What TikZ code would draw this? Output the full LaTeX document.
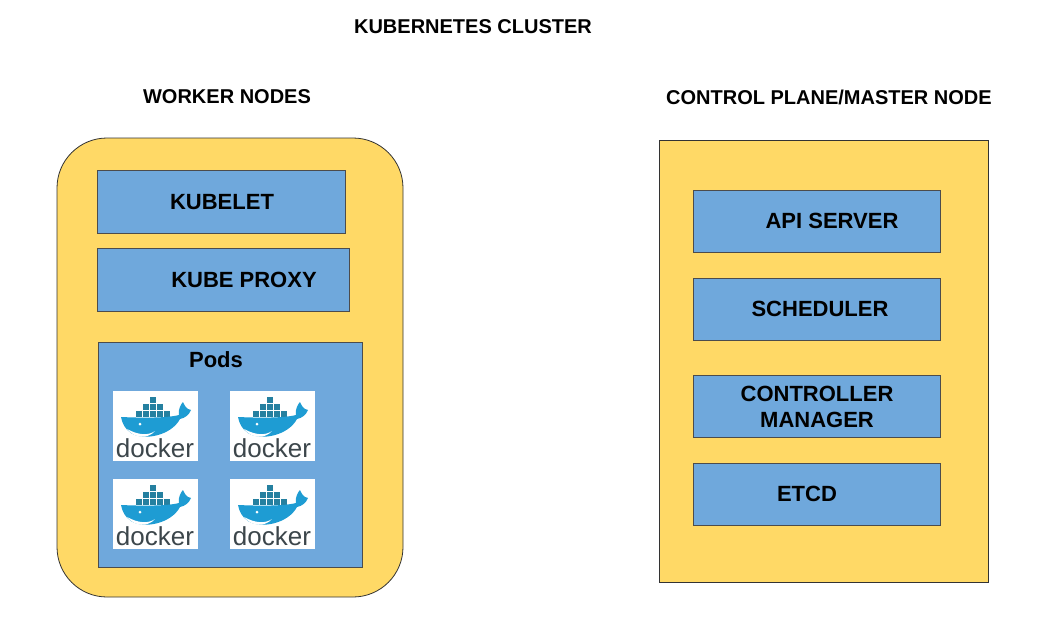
\documentclass[tikz,border=0pt]{standalone}
\usepackage{fontspec}
\setmainfont{Liberation Sans}
\begin{document}
\begin{tikzpicture}[x=1pt,y=-1pt,
 yel/.style={fill={rgb,255:red,255;green,217;blue,102},draw=black!80,line width=0.8pt},
 blu/.style={fill={rgb,255:red,111;green,168;blue,220},draw=black!70,line width=0.8pt},
 ttl/.style={font=\bfseries\fontsize{20}{24}\selectfont},
 lbl/.style={font=\bfseries\fontsize{22}{26}\selectfont,align=center},
 dock/.pic={
  \fill[white] (0,0) rectangle (85,70);
  \foreach \c/\r in {0/2,1/2,2/2,3/2,4/2,1/1,2/1,3/1,2/0}
   \fill[fill={rgb,255:red,37;green,128;blue,160},draw=white,line width=0.3pt] (22+\c*7,5+\r*7) rectangle ++(7,7);
  \fill[fill={rgb,255:red,30;green,156;blue,211}] (8,26) .. controls (30,27) and (55,27) .. (66,24)
     .. controls (65,18) and (68,13) .. (70,11) .. controls (72,15) and (73,18) .. (78,19)
     .. controls (76,24) and (72,27) .. (67,28) .. controls (58,45) and (30,50) .. (18,42)
     .. controls (12,38) and (9,32) .. (8,26) -- cycle;
  \fill[white] (14,38) .. controls (25,44) and (35,45) .. (42,40) .. controls (35,48) and (22,48) .. (14,38) -- cycle;
  \fill[white] (27,33) circle (1.5);
  \node[text={rgb,255:red,60;green,70;blue,75},font=\fontsize{26}{26}\selectfont] at (42,57) {docker};
 }]
\useasboundingbox (0,0) rectangle (1041,624);
\node[ttl] (t1) at (473,27) {KUBERNETES CLUSTER};
\node[ttl] (t2) at (227,97) {WORKER NODES};
\node[ttl] (t3) at (829,97) {CONTROL PLANE/MASTER NODE};
\draw[yel,rounded corners=50] (57,138) rectangle (403,597);
\draw[blu] (97,170) rectangle (345,233);
\node[lbl] (kl) at (222,202) {KUBELET};
\draw[blu] (97,248) rectangle (349,311);
\node[lbl] (kp) at (244,280) {KUBE PROXY};
\draw[blu] (98,342) rectangle (362,567);
\node[lbl] (pods) at (216,360) {Pods};
\pic at (113,391) {dock};
\pic at (230,391) {dock};
\pic at (113,479) {dock};
\pic at (230,479) {dock};
\draw[yel] (659,140) rectangle (988,582);
\draw[blu] (693,190) rectangle (940,252);
\node[lbl] (api) at (832,221) {API SERVER};
\draw[blu] (693,278) rectangle (940,340);
\node[lbl] (sch) at (820,309) {SCHEDULER};
\draw[blu] (693,375) rectangle (940,437);
\node[lbl] (cm) at (817,407) {CONTROLLER\\MANAGER};
\draw[blu] (693,463) rectangle (940,525);
\node[lbl] (et) at (807,494) {ETCD};
\end{tikzpicture}
\end{document}
